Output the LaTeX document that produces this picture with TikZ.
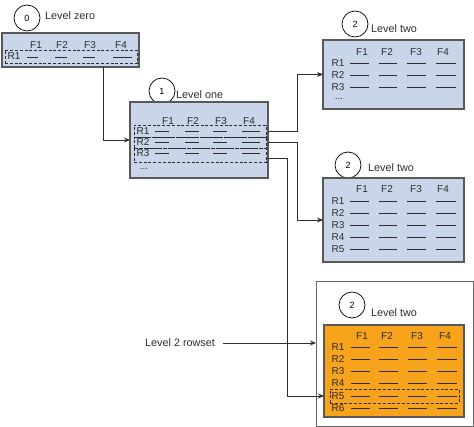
\documentclass[tikz,border=0pt]{standalone}
\usepackage{fontspec}
\setmainfont{Liberation Sans}
\usetikzlibrary{arrows.meta,calc}
\definecolor{boxblue}{RGB}{201,214,234}
\definecolor{boxedge}{RGB}{88,88,88}
\definecolor{rsorange}{RGB}{247,163,28}
\definecolor{ink}{RGB}{45,45,45}
\begin{document}
\begin{tikzpicture}[x=1pt,y=-1pt,
  tbl/.style={draw=boxedge, line width=1.1pt, fill=boxblue, rectangle, inner sep=0pt, outer sep=0pt, anchor=north west},
  orangetbl/.style={tbl, fill=rsorange},
  frame/.style={draw=black!60, line width=0.9pt, fill=white, rectangle, inner sep=0pt, outer sep=0pt, anchor=north west},
  lvl/.style={circle, draw=black, line width=0.7pt, minimum size=26pt, inner sep=0pt, font=\fontsize{9}{10}\selectfont},
  lvltext/.style={anchor=west, inner sep=0pt, font=\fontsize{10.8}{12}\selectfont, text=ink},
  cell/.style={inner sep=0pt, font=\fontsize{10}{11}\selectfont, text=ink},
  rowdash/.style={draw=ink, line width=0.9pt},
  rowbox/.style={draw=ink, dash pattern=on 3pt off 1.8pt, line width=0.8pt, rectangle, inner sep=0pt, outer sep=0pt, anchor=north west},
  conn/.style={draw=ink, line width=0.9pt},
  arr/.style={conn, -{Stealth[length=6pt,width=5pt]}}
]
\useasboundingbox (0,0) rectangle (474,427);

% ---------- Level zero ----------
\node[lvl] (c0) at (27,18) {0};
\node[lvltext] (t0) at (45,16) {Level zero};
\node[tbl, minimum width=137pt, minimum height=34pt] (L0) at (2,33) {};
\foreach \x/\f in {36/F1,62/F2,90/F3,121/F4}
  \node[cell] (L0\f) at (\x,45) {\f};
\node[rowbox, minimum width=132pt, minimum height=13pt] (L0r1) at (5,50) {};
\node[cell] (L0R1) at (14,56.5) {R1};
\foreach \a/\b in {27/38,55/67,83/95,113/132}
  \draw[rowdash] (\a,57) -- (\b,57);

% ---------- Level one ----------
\node[lvl] (c1) at (162,91) {1};
\node[lvltext] (t1) at (176,95) {Level one};
\node[tbl, minimum width=138pt, minimum height=76pt] (L1) at (130,102) {};
\foreach \x/\f in {168/F1,193/F2,221/F3,249/F4}
  \node[cell] (L1\f) at (\x,121.5) {\f};
\node[rowbox, minimum width=132pt, minimum height=12pt] (r1) at (134,125) {};
\node[rowbox, minimum width=132pt, minimum height=11pt] (r2) at (134,137) {};
\node[rowbox, minimum width=132pt, minimum height=14pt] (r3) at (134,148) {};
\foreach \n/\y in {1/131,2/142,3/153}{
  \node[cell] (L1R\n) at (143,\y) {R\n};
  \foreach \a/\b in {155/169,185/199,213/227,242/260}
    \draw[rowdash] (\a,\y+0.5) -- (\b,\y+0.5);
}
\node[cell] (L1dots) at (144,169) {...};

% ---------- Level two (a) ----------
\node[lvl] (c2a) at (355,24) {2};
\node[lvltext] (t2a) at (371,29) {Level two};
\node[tbl, minimum width=141pt, minimum height=69pt] (L2a) at (323,40) {};
\foreach \x/\f in {362/F1,387/F2,416/F3,443/F4}
  \node[cell] (L2a\f) at (\x,52) {\f};
\foreach \n/\y in {1/63,2/75,3/87}{
  \node[cell] (L2aR\n) at (338,\y) {R\n};
  \foreach \a/\b in {350/369,379/397,407/426,436/456}
    \draw[rowdash] (\a,\y+0.5) -- (\b,\y+0.5);
}
\node[cell] (L2adots) at (339,99) {...};

% ---------- Level two (b) ----------
\node[lvl] (c2b) at (348,165) {2};
\node[lvltext] (t2b) at (368,168) {Level two};
\node[tbl, minimum width=141pt, minimum height=84pt] (L2b) at (323,178) {};
\foreach \x/\f in {362/F1,387/F2,416/F3,443/F4}
  \node[cell] (L2b\f) at (\x,189) {\f};
\foreach \n/\y in {1/201,2/213,3/225,4/237,5/249}{
  \node[cell] (L2bR\n) at (338,\y) {R\n};
  \foreach \a/\b in {350/369,379/397,407/426,436/456}
    \draw[rowdash] (\a,\y+0.5) -- (\b,\y+0.5);
}

% ---------- Level two (c), the level 2 rowset ----------
\node[frame, minimum width=157pt, minimum height=145pt] (fr) at (316,281) {};
\node[lvl] (c2c) at (352,305) {2};
\node[lvltext] (t2c) at (371,313) {Level two};
\node[orangetbl, minimum width=140pt, minimum height=92pt] (L2c) at (324,325) {};
\foreach \x/\f in {362/F1,387/F2,417/F3,445/F4}
  \node[cell] (L2c\f) at (\x,336) {\f};
\foreach \n/\y in {1/347,2/359,3/371,4/383,5/396,6/408}{
  \node[cell] (L2cR\n) at (338,\y) {R\n};
  \foreach \a/\b in {351/370,379/398,408/427,437/457}
    \draw[rowdash] (\a,\y+0.5) -- (\b,\y+0.5);
}
\node[rowbox, minimum width=129pt, minimum height=14pt] (o5) at (330,389) {};

\node[lvltext] (rs) at (145,343) {Level 2 rowset};

% ---------- connectors ----------
\draw[arr] ($(L0.south west)!0.74!(L0.south east)$) |- (L1.west);
\draw[arr] (L1.east |- r1.center) -- ++(29,0) |- (L2a.west);
\draw[arr] (L1.east |- r2.center) -- ++(29,0) |- (L2b.west);
\draw[arr] ($(L1.east |- r3.center)+(0,3)$) -- ++(19,0) |- (L2c.west |- o5.center);
\draw[arr] ([xshift=8pt]rs.east) -- (fr.west |- rs.east);
\end{tikzpicture}
\end{document}
